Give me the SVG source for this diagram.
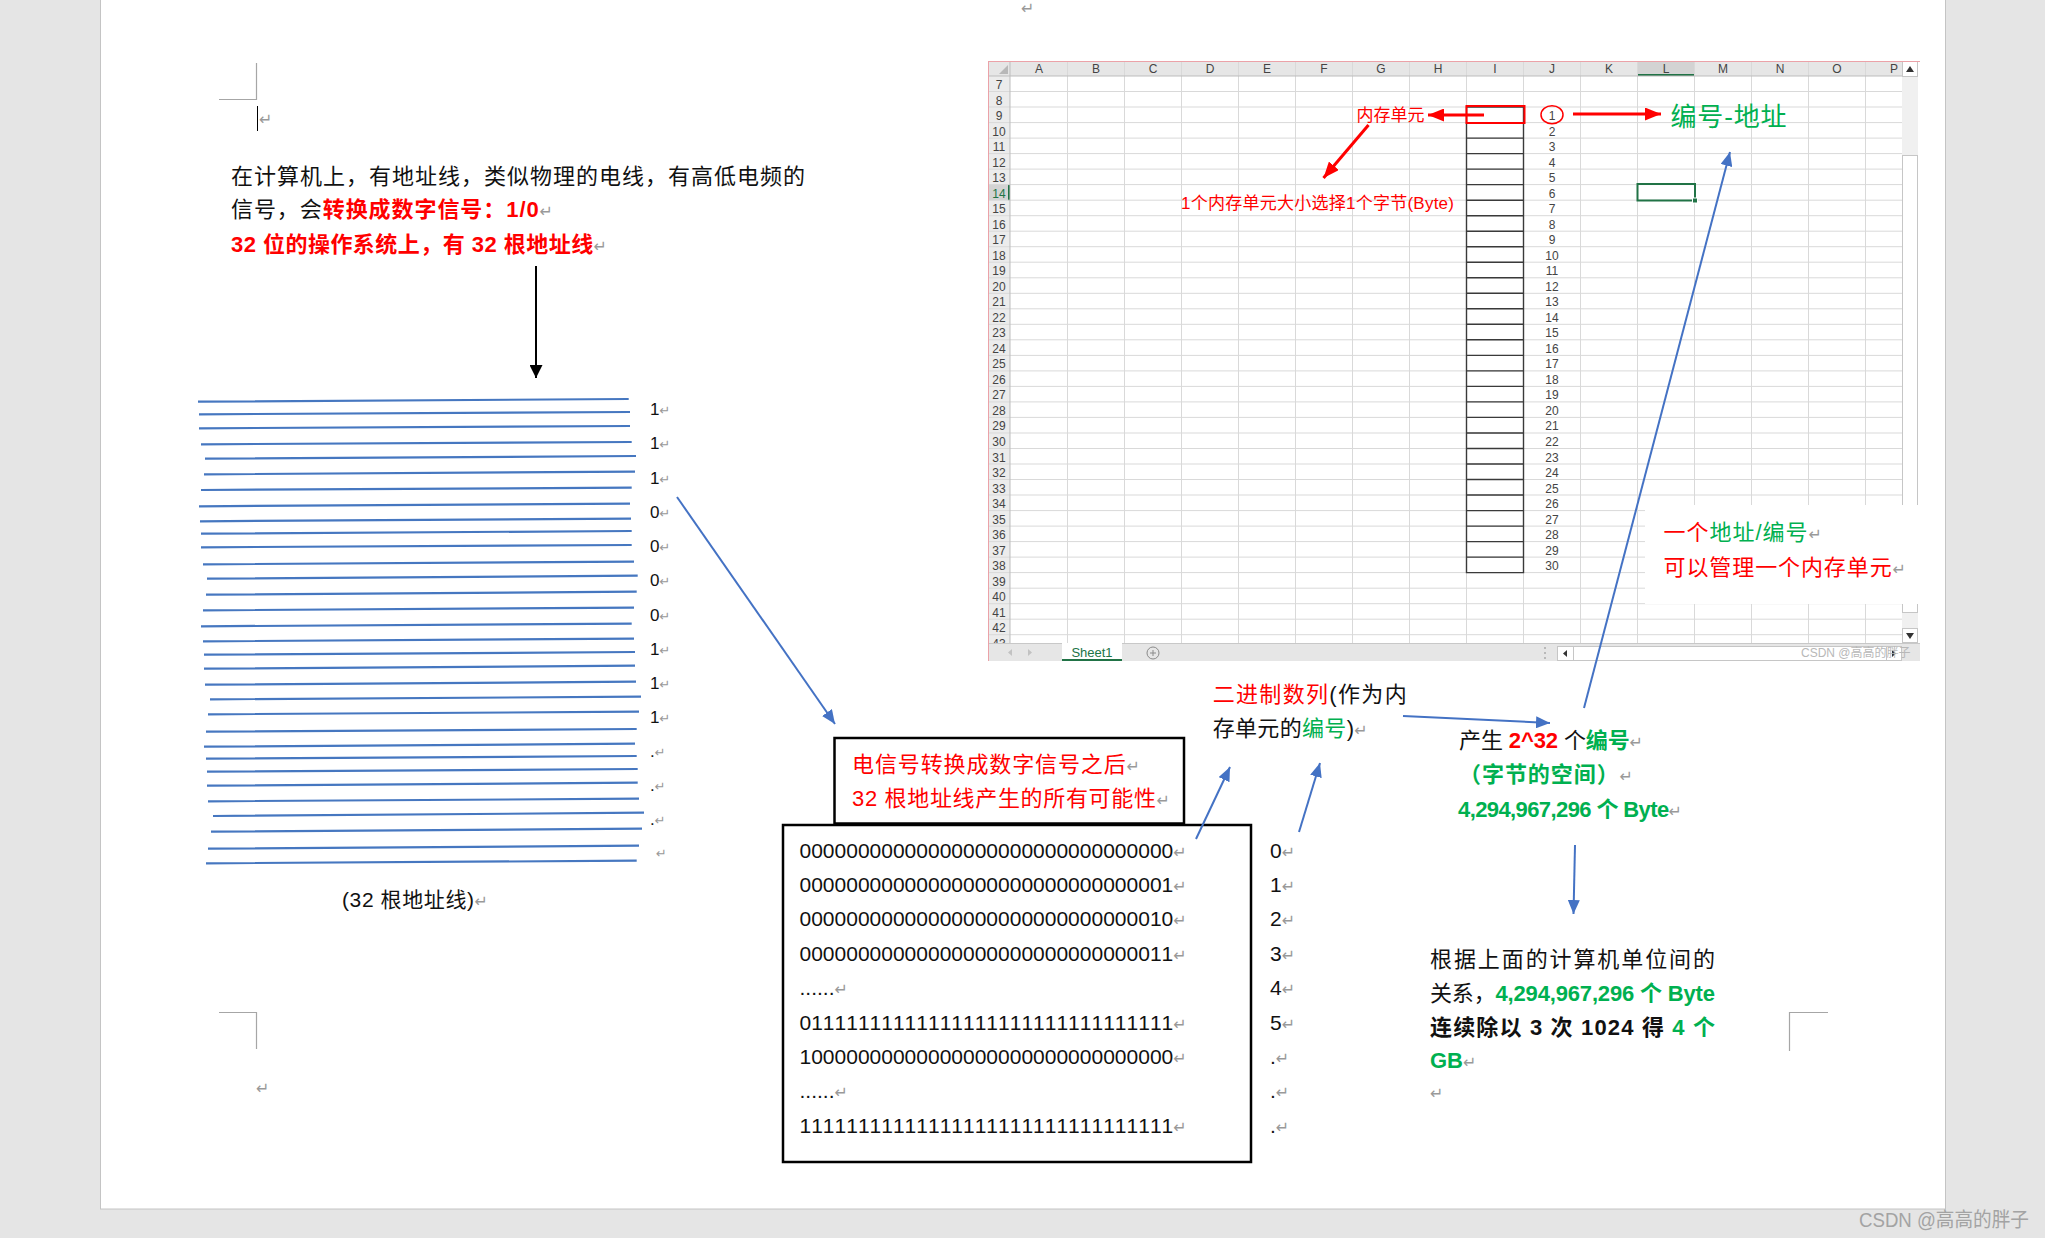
<svg xmlns="http://www.w3.org/2000/svg" width="2045" height="1238" viewBox="0 0 2045 1238">
<style>
.cn{font-family:"Liberation Sans","Noto Sans CJK SC",sans-serif;font-size:22px;fill:#111}
.r{fill:#ff0000}.g{fill:#00b050}.k{fill:#111}.b{font-weight:bold}
.pm{font-family:"DejaVu Sans",sans-serif;font-size:16px;fill:#999;font-weight:normal}
.pms{font-family:"DejaVu Sans",sans-serif;font-size:13px;fill:#999;font-weight:normal}
.num{font-family:"Liberation Sans",sans-serif;font-size:21px;fill:#111;font-kerning:none}
.wl{font-family:"Liberation Sans",sans-serif;font-size:17px;fill:#111}
.xs{font-family:"Liberation Sans",sans-serif;font-size:12px;fill:#444}
.grid{stroke:#d9d9d9;stroke-width:1;fill:none}
.blue{stroke:#4472c4;stroke-width:2;fill:none;marker-end:url(#ab)}
.red{stroke:#ff0000;stroke-width:3;fill:none;marker-end:url(#ar)}
</style>
<defs>
<marker id="ab" markerUnits="userSpaceOnUse" markerWidth="15" markerHeight="12" refX="14" refY="6" orient="auto"><path d="M0,0 L14,6 L0,12 z" fill="#4472c4"/></marker>
<marker id="ar" markerUnits="userSpaceOnUse" markerWidth="17" markerHeight="13" refX="16" refY="6.5" orient="auto"><path d="M0,0 L16,6.5 L0,13 z" fill="#ff0000"/></marker>
<marker id="ak" markerUnits="userSpaceOnUse" markerWidth="14" markerHeight="13" refX="13" refY="6.5" orient="auto"><path d="M0,0 L13,6.5 L0,13 z" fill="#000"/></marker>
<clipPath id="ss"><rect x="988" y="61" width="914" height="582"/></clipPath>
</defs>

<g id="page">
<rect x="0" y="0" width="2045" height="1238" fill="#e5e5e5"/>
<rect x="100.5" y="-1" width="1845" height="1210" fill="#fff" stroke="#c4c4c4" stroke-width="1"/>
<path d="M219,99.5 H256.5 V63 M219,1012.5 H256.5 V1049 M1828,1012.5 H1789.5 V1051" stroke="#a6a6a6" stroke-width="1.2" fill="none"/>
<text x="1021" y="14" class="pm">↵</text>
<line x1="257.5" y1="106" x2="257.5" y2="131" stroke="#000" stroke-width="1"/>
<text x="259" y="125" class="pm">↵</text>
<text x="256" y="1094" class="pm">↵</text>
<text x="1859" y="1227" font-family="Liberation Sans,Noto Sans CJK SC,sans-serif" font-size="20" fill="#a3a3a3" textLength="170" lengthAdjust="spacingAndGlyphs">CSDN @高高的胖子</text>
</g>

<g id="spreadsheet">
<rect x="988" y="61" width="932" height="600" fill="#fff"/>
<g clip-path="url(#ss)">
<rect x="988" y="61" width="914" height="15" fill="#e6e6e6"/>
<rect x="988" y="76" width="22" height="567" fill="#ececec"/>
<rect x="1637.5" y="61" width="57" height="15" fill="#d3d3d3"/>
<line x1="1637.5" y1="75" x2="1694.5" y2="75" stroke="#217346" stroke-width="2"/>
<rect x="988" y="184.6" width="22" height="15.6" fill="#d3d3d3"/>
<line x1="1009" y1="184.6" x2="1009" y2="200.2" stroke="#217346" stroke-width="2"/>
<polygon points="999,74 1008,74 1008,65" fill="#b8b8b8"/>
<path class="grid" d="M1067.5,61V643M1124.5,61V643M1181.5,61V643M1238.5,61V643M1295.5,61V643M1352.5,61V643M1409.5,61V643M1466.5,61V643M1523.5,61V643M1580.5,61V643M1637.5,61V643M1694.5,61V643M1751.5,61V643M1808.5,61V643M1865.5,61V643"/>
<path class="grid" d="M988,91.5H1902M988,107H1902M988,122.6H1902M988,138.1H1902M988,153.6H1902M988,169.1H1902M988,184.6H1902M988,200.2H1902M988,215.7H1902M988,231.2H1902M988,246.7H1902M988,262.2H1902M988,277.8H1902M988,293.3H1902M988,308.8H1902M988,324.3H1902M988,339.8H1902M988,355.4H1902M988,370.9H1902M988,386.4H1902M988,401.9H1902M988,417.4H1902M988,433H1902M988,448.5H1902M988,464H1902M988,479.5H1902M988,495H1902M988,510.6H1902M988,526.1H1902M988,541.6H1902M988,557.1H1902M988,572.6H1902M988,588.2H1902M988,603.7H1902M988,619.2H1902M988,634.7H1902"/>
<path d="M988,76H1902M1010,61V643" stroke="#bdbdbd" stroke-width="1" fill="none"/>
<text class="xs" text-anchor="middle"><tspan x="1039" y="73">A</tspan><tspan x="1096" y="73">B</tspan><tspan x="1153" y="73">C</tspan><tspan x="1210" y="73">D</tspan><tspan x="1267" y="73">E</tspan><tspan x="1324" y="73">F</tspan><tspan x="1381" y="73">G</tspan><tspan x="1438" y="73">H</tspan><tspan x="1495" y="73">I</tspan><tspan x="1552" y="73">J</tspan><tspan x="1609" y="73">K</tspan><tspan x="1666" y="73">L</tspan><tspan x="1723" y="73">M</tspan><tspan x="1780" y="73">N</tspan><tspan x="1837" y="73">O</tspan><tspan x="1894" y="73">P</tspan></text>
<text class="xs" text-anchor="middle" fill="#333"><tspan x="999" y="89">7</tspan><tspan x="999" y="104.5">8</tspan><tspan x="999" y="120">9</tspan><tspan x="999" y="135.6">10</tspan><tspan x="999" y="151.1">11</tspan><tspan x="999" y="166.6">12</tspan><tspan x="999" y="182.1">13</tspan><tspan x="999" y="197.6" fill="#217346">14</tspan><tspan x="999" y="213.2">15</tspan><tspan x="999" y="228.7">16</tspan><tspan x="999" y="244.2">17</tspan><tspan x="999" y="259.7">18</tspan><tspan x="999" y="275.2">19</tspan><tspan x="999" y="290.8">20</tspan><tspan x="999" y="306.3">21</tspan><tspan x="999" y="321.8">22</tspan><tspan x="999" y="337.3">23</tspan><tspan x="999" y="352.8">24</tspan><tspan x="999" y="368.4">25</tspan><tspan x="999" y="383.9">26</tspan><tspan x="999" y="399.4">27</tspan><tspan x="999" y="414.9">28</tspan><tspan x="999" y="430.4">29</tspan><tspan x="999" y="446">30</tspan><tspan x="999" y="461.5">31</tspan><tspan x="999" y="477">32</tspan><tspan x="999" y="492.5">33</tspan><tspan x="999" y="508">34</tspan><tspan x="999" y="523.6">35</tspan><tspan x="999" y="539.1">36</tspan><tspan x="999" y="554.6">37</tspan><tspan x="999" y="570.1">38</tspan><tspan x="999" y="585.6">39</tspan><tspan x="999" y="601.2">40</tspan><tspan x="999" y="616.7">41</tspan><tspan x="999" y="632.2">42</tspan><tspan x="999" y="647.7">43</tspan></text>
<path d="M1466.5,107H1523.5V572.6H1466.5Z M1466.5,122.6H1523.5M1466.5,138.1H1523.5M1466.5,153.6H1523.5M1466.5,169.1H1523.5M1466.5,184.6H1523.5M1466.5,200.2H1523.5M1466.5,215.7H1523.5M1466.5,231.2H1523.5M1466.5,246.7H1523.5M1466.5,262.2H1523.5M1466.5,277.8H1523.5M1466.5,293.3H1523.5M1466.5,308.8H1523.5M1466.5,324.3H1523.5M1466.5,339.8H1523.5M1466.5,355.4H1523.5M1466.5,370.9H1523.5M1466.5,386.4H1523.5M1466.5,401.9H1523.5M1466.5,417.4H1523.5M1466.5,433H1523.5M1466.5,448.5H1523.5M1466.5,464H1523.5M1466.5,479.5H1523.5M1466.5,495H1523.5M1466.5,510.6H1523.5M1466.5,526.1H1523.5M1466.5,541.6H1523.5M1466.5,557.1H1523.5" stroke="#3a3a3a" stroke-width="1.4" fill="none"/>
<text class="xs" text-anchor="middle" fill="#333"><tspan x="1552" y="120">1</tspan><tspan x="1552" y="135.6">2</tspan><tspan x="1552" y="151.1">3</tspan><tspan x="1552" y="166.6">4</tspan><tspan x="1552" y="182.1">5</tspan><tspan x="1552" y="197.6">6</tspan><tspan x="1552" y="213.2">7</tspan><tspan x="1552" y="228.7">8</tspan><tspan x="1552" y="244.2">9</tspan><tspan x="1552" y="259.7">10</tspan><tspan x="1552" y="275.2">11</tspan><tspan x="1552" y="290.8">12</tspan><tspan x="1552" y="306.3">13</tspan><tspan x="1552" y="321.8">14</tspan><tspan x="1552" y="337.3">15</tspan><tspan x="1552" y="352.8">16</tspan><tspan x="1552" y="368.4">17</tspan><tspan x="1552" y="383.9">18</tspan><tspan x="1552" y="399.4">19</tspan><tspan x="1552" y="414.9">20</tspan><tspan x="1552" y="430.4">21</tspan><tspan x="1552" y="446">22</tspan><tspan x="1552" y="461.5">23</tspan><tspan x="1552" y="477">24</tspan><tspan x="1552" y="492.5">25</tspan><tspan x="1552" y="508">26</tspan><tspan x="1552" y="523.6">27</tspan><tspan x="1552" y="539.1">28</tspan><tspan x="1552" y="554.6">29</tspan><tspan x="1552" y="570.1">30</tspan></text>
<rect x="1466.5" y="106" width="58" height="17" fill="none" stroke="#ff0000" stroke-width="2"/>
<ellipse cx="1552" cy="114.8" rx="11" ry="9" fill="none" stroke="#ff0000" stroke-width="1.5"/>
<rect x="1637.5" y="184" width="57.5" height="16.5" fill="none" stroke="#217346" stroke-width="2"/>
<rect x="1692.5" y="198" width="5" height="5" fill="#217346" stroke="#fff" stroke-width="1"/>
</g>
<rect x="1902" y="61" width="16" height="582" fill="#f0f0f0"/>
<rect x="1902.5" y="61.5" width="15" height="15" fill="#fff" stroke="#c6c6c6"/>
<polygon points="1906,72 1914,72 1910,66" fill="#333"/>
<rect x="1902.5" y="155.5" width="15" height="457" fill="#fff" stroke="#c6c6c6"/>
<rect x="1902.5" y="628.5" width="15" height="14" fill="#fff" stroke="#c6c6c6"/>
<polygon points="1906,633 1914,633 1910,639" fill="#333"/>
<rect x="988" y="643" width="932" height="18" fill="#e6e6e6"/>
<line x1="988" y1="643.5" x2="1920" y2="643.5" stroke="#c8c8c8"/>
<polygon points="1012,649 1012,656 1008,652.5" fill="#c2c2c2"/>
<polygon points="1028,649 1028,656 1032,652.5" fill="#c2c2c2"/>
<rect x="1062" y="643" width="60" height="17" fill="#fff"/>
<line x1="1062" y1="660" x2="1122" y2="660" stroke="#217346" stroke-width="2"/>
<text x="1092" y="657" text-anchor="middle" font-family="Liberation Sans,sans-serif" font-size="13" fill="#217346">Sheet1</text>
<circle cx="1153" cy="653" r="6" fill="none" stroke="#8a8a8a" stroke-width="1"/>
<path d="M1150,653H1156M1153,650V656" stroke="#8a8a8a" stroke-width="1"/>
<path d="M1545,647V649M1545,652V654M1545,657V659" stroke="#aaa" stroke-width="1.5"/>
<rect x="1557.5" y="646.5" width="344" height="14" fill="#fff" stroke="#c6c6c6"/>
<line x1="1573.5" y1="646.5" x2="1573.5" y2="660.5" stroke="#c6c6c6"/>
<line x1="1886.5" y1="646.5" x2="1886.5" y2="660.5" stroke="#c6c6c6"/>
<polygon points="1567,650 1567,657 1563,653.5" fill="#333"/>
<polygon points="1892,650 1892,657 1896,653.5" fill="#333"/>
<text x="1801" y="657" font-family="Liberation Sans,Noto Sans CJK SC,sans-serif" font-size="12" fill="#b8b8b8">CSDN @高高的胖子</text>
<path d="M988,61.5H1920M988.5,61V661" stroke="#eba2a8" stroke-width="1" fill="none"/>
<rect x="1645" y="505" width="273" height="99" fill="#fff"/>
<text x="1356.5" y="121" class="cn r" style="font-size:17px" textLength="68">内存单元</text>
<text x="1181" y="209" class="cn r" style="font-size:17px" textLength="273">1个内存单元大小选择1个字节(Byte)</text>
<text x="1670.5" y="126" class="cn g" style="font-size:26px" textLength="116">编号-地址</text>
<text x="1663.5" y="540" class="cn" textLength="158.5"><tspan class="r">一个</tspan><tspan class="g">地址/编号</tspan><tspan class="pm">↵</tspan></text>
<text x="1663.5" y="575" class="cn r" textLength="242.5">可以管理一个内存单元<tspan class="pm">↵</tspan></text>
</g>

<g id="intro-text">
<text x="231" y="184" class="cn" textLength="574">在计算机上，有地址线，类似物理的电线，有高低电频的</text>
<text x="231" y="217" class="cn" textLength="322">信号，会<tspan class="r b">转换成数字信号：1/0</tspan><tspan class="pm">↵</tspan></text>
<text x="231" y="252" class="cn r b" textLength="376">32 位的操作系统上，有 32 根地址线<tspan class="pm">↵</tspan></text>
</g>

<g id="address-wires">
<path d="M198,401.7L628.7,399M199,414.3L630,412M199,428.3L630,426M201,444.3L631.7,442M205,458.7L636,456M204,474.3L635,471.7M201,490L631.7,487.7M199,506.3L630,503.7M200,521.3L631,518.7M201,533.7L631.7,531M201,547.3L631.7,545M203,564.3L634,561.7M207,578.7L637.7,575.7M206,594.7L636.7,591.7M203,610.3L634,607.7M201,626.3L631.7,623.7M203,641.3L634,638.7M204,654.7L635,652M204,668.7L635,665.7M205,684.7L636,681.7M210,699.3L641,696.7M208,714.3L639,711.7M206,731.7L636.7,729M204,746.7L635,743.7M206,758.7L636.7,756M207,771.7L637.7,769M207,785.7L637.7,782.7M208,801.3L639,798.7M213,816L644,812.7M211,831.7L642,828.7M208,848.7L639,845.7M206,863.3L636.7,860.7" stroke="#4677c0" stroke-width="2.2" fill="none"/>
<text class="wl"><tspan x="650" y="415">1</tspan><tspan class="pms">↵</tspan><tspan x="650" y="449">1</tspan><tspan class="pms">↵</tspan><tspan x="650" y="483.5">1</tspan><tspan class="pms">↵</tspan><tspan x="650" y="518">0</tspan><tspan class="pms">↵</tspan><tspan x="650" y="552">0</tspan><tspan class="pms">↵</tspan><tspan x="650" y="586">0</tspan><tspan class="pms">↵</tspan><tspan x="650" y="620.5">0</tspan><tspan class="pms">↵</tspan><tspan x="650" y="655">1</tspan><tspan class="pms">↵</tspan><tspan x="650" y="689">1</tspan><tspan class="pms">↵</tspan><tspan x="650" y="723">1</tspan><tspan class="pms">↵</tspan><tspan x="650" y="757">.</tspan><tspan class="pms">↵</tspan><tspan x="650" y="791">.</tspan><tspan class="pms">↵</tspan><tspan x="650" y="825">.</tspan><tspan class="pms">↵</tspan><tspan x="656" y="858" class="pms">↵</tspan></text>
<text x="342" y="907" class="cn" style="font-size:21px" textLength="146">(32 根地址线)<tspan class="pm">↵</tspan></text>
</g>

<g id="box-title">
<rect x="834.5" y="738" width="349.5" height="85.5" fill="#fff" stroke="#000" stroke-width="2.5"/>
<text x="852" y="772" class="cn r" textLength="288">电信号转换成数字信号之后<tspan class="pm">↵</tspan></text>
<text x="852" y="806" class="cn r" textLength="318">32 根地址线产生的所有可能性<tspan class="pm">↵</tspan></text>
</g>

<g id="box-binary">
<rect x="783" y="825" width="468" height="337" fill="#fff" stroke="#000" stroke-width="2.5"/>
<text class="num"><tspan x="799.5" y="857.5">00000000000000000000000000000000</tspan><tspan class="pm">↵</tspan><tspan x="799.5" y="891.9">00000000000000000000000000000001</tspan><tspan class="pm">↵</tspan><tspan x="799.5" y="926.3">00000000000000000000000000000010</tspan><tspan class="pm">↵</tspan><tspan x="799.5" y="960.7">00000000000000000000000000000011</tspan><tspan class="pm">↵</tspan><tspan x="799.5" y="995.1">......</tspan><tspan class="pm">↵</tspan><tspan x="799.5" y="1029.5">01111111111111111111111111111111</tspan><tspan class="pm">↵</tspan><tspan x="799.5" y="1063.9">10000000000000000000000000000000</tspan><tspan class="pm">↵</tspan><tspan x="799.5" y="1098.3">......</tspan><tspan class="pm">↵</tspan><tspan x="799.5" y="1132.7">11111111111111111111111111111111</tspan><tspan class="pm">↵</tspan></text>
</g>

<g id="address-numbers">
<text class="num"><tspan x="1270" y="857.5">0</tspan><tspan class="pm">↵</tspan><tspan x="1270" y="891.9">1</tspan><tspan class="pm">↵</tspan><tspan x="1270" y="926.3">2</tspan><tspan class="pm">↵</tspan><tspan x="1270" y="960.7">3</tspan><tspan class="pm">↵</tspan><tspan x="1270" y="995.1">4</tspan><tspan class="pm">↵</tspan><tspan x="1270" y="1029.5">5</tspan><tspan class="pm">↵</tspan><tspan x="1270" y="1063.9">.</tspan><tspan class="pm">↵</tspan><tspan x="1270" y="1098.3">.</tspan><tspan class="pm">↵</tspan><tspan x="1270" y="1132.7">.</tspan><tspan class="pm">↵</tspan></text>
</g>

<g id="label-binary">
<text x="1212.7" y="702" class="cn" textLength="194"><tspan class="r">二进制数列</tspan>(作为内</text>
<text x="1212.7" y="736" class="cn" textLength="155">存单元的<tspan class="g">编号</tspan>)<tspan class="pm">↵</tspan></text>
</g>

<g id="label-count">
<text x="1459" y="748" class="cn" textLength="184">产生 <tspan class="r b">2^32</tspan> 个<tspan class="g b">编号</tspan><tspan class="pm">↵</tspan></text>
<text x="1459" y="782" class="cn g b" textLength="174">（字节的空间）<tspan class="pm">↵</tspan></text>
<text x="1458" y="817" class="cn g b" textLength="224">4,294,967,296 个 Byte<tspan class="pm">↵</tspan></text>
</g>

<g id="label-gb">
<text x="1430" y="967" class="cn" textLength="285">根据上面的计算机单位间的</text>
<text x="1430" y="1001" class="cn" textLength="285">关系，<tspan class="g b">4,294,967,296 个 Byte</tspan></text>
<text x="1430" y="1035" class="cn b" textLength="285">连续除以 3 次 1024 得 <tspan class="g">4 个</tspan></text>
<text x="1430" y="1068" class="cn g b">GB<tspan class="pm">↵</tspan></text>
<text x="1430" y="1099" class="pm">↵</text>
</g>

<g id="connectors">
<line x1="536" y1="266" x2="536" y2="378" stroke="#000" stroke-width="2" marker-end="url(#ak)"/>
<line class="blue" x1="677" y1="497" x2="835" y2="724"/>
<line class="blue" x1="1196" y1="839" x2="1230" y2="767"/>
<line class="blue" x1="1299" y1="832" x2="1320" y2="763"/>
<line class="blue" x1="1403" y1="716" x2="1550" y2="723"/>
<line class="blue" x1="1584" y1="708" x2="1730" y2="152"/>
<line class="blue" x1="1575" y1="845" x2="1573.5" y2="914"/>
<line class="red" x1="1484" y1="115" x2="1428" y2="115"/>
<line class="red" x1="1573" y1="114" x2="1661" y2="114"/>
<line class="red" stroke-width="2.5" x1="1368.5" y1="125" x2="1323.5" y2="178"/>
</g>
</svg>
